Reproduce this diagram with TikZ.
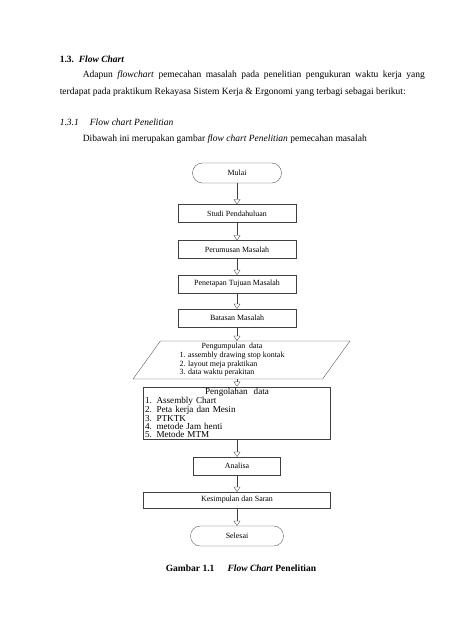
\documentclass[tikz,border=0pt]{standalone}
\usepackage{fontspec}
\setmainfont{Liberation Serif}
\usetikzlibrary{arrows.meta,shapes.geometric,positioning}

\tikzset{
  terminal/.style={draw=black!75, rectangle, rounded corners=0.44cm, minimum width=3.94cm, minimum height=0.89cm, inner sep=1pt, font=\fontsize{10}{11}\selectfont},
  proses/.style={draw=black!75, rectangle, minimum width=5.23cm, minimum height=0.8cm, inner sep=1pt, font=\fontsize{10}{11}\selectfont},
  masukan/.style={draw=black!75, trapezium, trapezium left angle=60, trapezium right angle=120, trapezium stretches=true, minimum width=9.61cm, minimum height=1.68cm, inner sep=1pt, font=\fontsize{10}{11}\selectfont},
  panah/.style={draw=black!75, -{Triangle[open, width=0.3cm, length=0.22cm]}},
}

\begin{document}
\begin{tikzpicture}[x=0.0443cm, y=-0.0443cm]
		\fill[white] (0,0) rectangle (474,632);
		\useasboundingbox (0,0) rectangle (474,632);
		
		% Heading and paragraph
		\node[anchor=base west, font=\fontsize{12}{14}\selectfont] (judul) at (57,63) {\textbf{1.3.\ \ \textit{Flow Chart}}};
		\node[anchor=base west, font=\fontsize{12}{14}\selectfont] (para1) at (80,78) {\makebox[15.15cm][s]{Adapun \textit{flowchart} pemecahan masalah pada penelitian pengukuran waktu kerja yang}};
		\node[anchor=base west, font=\fontsize{12}{14}\selectfont] (para2) at (57,95) {terdapat pada praktikum Rekayasa Sistem Kerja \& Ergonomi yang terbagi sebagai berikut:};
		
		\node[anchor=base west, font=\fontsize{12}{14}\selectfont] (sub) at (57,125) {\textit{1.3.1}};
		\node[anchor=base west, font=\fontsize{12}{14}\selectfont] (subjudul) at (87,125) {\textit{Flow chart Penelitian}};
		\node[anchor=base west, font=\fontsize{12}{14}\selectfont] (para3) at (80,141) {Dibawah ini merupakan gambar \textit{flow chart Penelitian} pemecahan masalah};
		
		% Flow chart
		\node[terminal] (mulai) at (237,173) {Mulai};
		\node[proses] (studi) at (237,213.5) {Studi Pendahuluan};
		\node[proses] (rumus) at (237,249.5) {Perumusan Masalah};
		\node[proses] (tujuan) at (237,284) {Penetapan Tujuan Masalah};
		\node[proses] (batasan) at (237,318) {Batasan Masalah};
		\node[masukan] (kumpul) at (241.5,360) {\begin{tabular}{@{}l@{}}\multicolumn{1}{@{}c@{}}{Pengumpulan\ \ data}\\ 1. assembly drawing stop kontak\\ 2. layout meja praktikan\\ 3. data waktu perakitan\end{tabular}\hspace*{0.84cm}};
		\node[proses, minimum width=8.28cm, minimum height=2.22cm, text width=8.14cm, align=left, inner sep=2pt, font=\fontsize{11.5}{10.4}\selectfont] (olah) at (237,413) {{\centering Pengolahan\ \ data\par}
			1. Assembly Chart\\ 2. Peta kerja dan Mesin\\ 3. PTKTK\\ 4. metode Jam henti\\ 5. Metode MTM};
		\node[proses, minimum width=3.85cm] (analisa) at (237,466) {Analisa};
		\node[proses, minimum width=8.28cm, minimum height=0.71cm] (simpul) at (237,500) {Kesimpulan dan Saran};
		\node[terminal, minimum width=4.12cm] (selesai) at (237,536) {Selesai};
		
		\draw[panah] (mulai) -- (studi);
		\draw[panah] (studi) -- (rumus);
		\draw[panah] (rumus) -- (tujuan);
		\draw[panah] (tujuan) -- (batasan);
		\draw[panah] (batasan.south) -- (batasan.south |- kumpul.north);
		\draw[panah] (olah.north |- kumpul.south) -- (olah.north);
		\draw[panah] (olah) -- (analisa);
		\draw[panah] (analisa) -- (simpul);
		\draw[panah] (simpul) -- (selesai);
		
		% Caption
		\node[anchor=base west, font=\fontsize{12}{14}\selectfont] (caption) at (163,571) {\textbf{Gambar 1.1\hspace{0.58cm}\textit{Flow Chart} Penelitian}};
	\end{tikzpicture}
\end{document}
